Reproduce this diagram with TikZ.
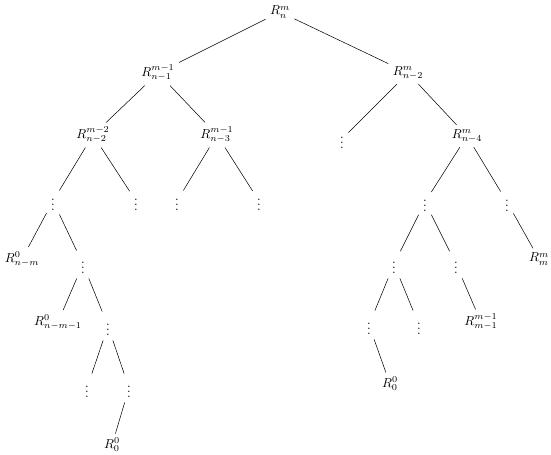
\documentclass[tikz,border=0pt]{standalone}
\usepackage{amssymb}
\usepackage{tikz}
\usetikzlibrary{positioning}

\begin{document}
\begin{tikzpicture}[x=0.77pt, y=-0.77pt]
                        \useasboundingbox (0, 0) rectangle (551, 455);

                        \node (r) at (280, 12) {$R_n^m$};

                        \node (a) at (158, 73) {$R_{n-1}^{m-1}$};
                        \node (b) at (408, 73) {$R_{n-2}^m$};

                        \node (aa) at (93, 135) {$R_{n-2}^{m-2}$};
                        \node (ab) at (217, 135) {$R_{n-3}^{m-1}$};
                        \node (ba) at (342, 139) {$\vdots$};
                        \node (bb) at (467, 136) {$R_{n-4}^m$};

                        \node (d1) at (53, 201) {$\vdots$};
                        \node (d2) at (136, 201) {$\vdots$};
                        \node (d3) at (177, 201) {$\vdots$};
                        \node (d4) at (259, 201) {$\vdots$};
                        \node (d5) at (425, 202) {$\vdots$};
                        \node (d6) at (507, 202) {$\vdots$};

                        \node (lnm) at (22, 259) {$R_{n-m}^0$};
                        \node (d7) at (83, 264) {$\vdots$};
                        \node (d8) at (394, 264) {$\vdots$};
                        \node (d9) at (456, 264) {$\vdots$};
                        \node (rmm) at (539, 259) {$R_m^m$};

                        \node (lnm1) at (58, 322) {$R_{n-m-1}^0$};
                        \node (d10) at (108, 326) {$\vdots$};
                        \node (d11) at (369, 325) {$\vdots$};
                        \node (d12) at (419, 325) {$\vdots$};
                        \node (rm1) at (481, 322) {$R_{m-1}^{m-1}$};

                        \node (d13) at (87, 388) {$\vdots$};
                        \node (d14) at (129, 388) {$\vdots$};
                        \node (r0b) at (390, 384) {$R_0^0$};

                        \node (r0a) at (112, 445) {$R_0^0$};

                        \draw
                        (r) -- (a)
                        (r) -- (b)

                        (a) -- (aa)
                        (a) -- (ab)
                        (b) -- (ba)
                        (b) -- (bb)

                        (aa) -- (d1)
                        (aa) -- (d2)
                        (ab) -- (d3)
                        (ab) -- (d4)
                        (bb) -- (d5)
                        (bb) -- (d6)

                        (d1) -- (lnm)
                        (d1) -- (d7)
                        (d5) -- (d8)
                        (d5) -- (d9)
                        (d6) -- (rmm)

                        (d7) -- (lnm1)
                        (d7) -- (d10)
                        (d8) -- (d11)
                        (d8) -- (d12)
                        (d9) -- (rm1)

                        (d10) -- (d13)
                        (d10) -- (d14)
                        (d11) -- (r0b)

                        (d14) -- (r0a);
                    \end{tikzpicture}
\end{document}
